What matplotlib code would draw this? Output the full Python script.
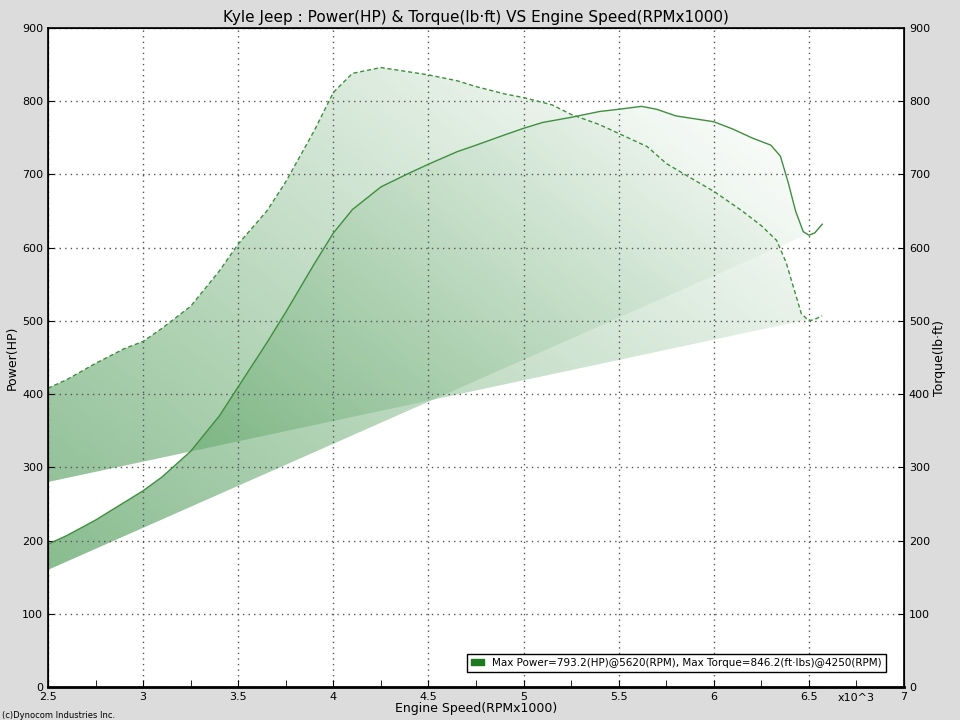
import numpy as np
import matplotlib
matplotlib.use("Agg")
import matplotlib.pyplot as plt
from matplotlib.colors import LinearSegmentedColormap

pw_x = [2.5, 2.6, 2.75, 2.9, 3.0, 3.1, 3.25, 3.4, 3.5, 3.65, 3.75, 3.9, 4.0, 4.1, 4.25, 4.4, 4.5, 4.65, 4.75, 4.9, 5.0, 5.1, 5.25, 5.4, 5.5, 5.62, 5.7, 5.8, 6.0, 6.1, 6.2, 6.3, 6.35, 6.39, 6.43, 6.47, 6.5, 6.53, 6.57]
pw_y = [195, 207, 228, 252, 268, 287, 322, 370, 410, 470, 512, 578, 620, 652, 683, 702, 714, 731, 740, 754, 763, 771, 778, 786, 789, 793, 789, 780, 772, 762, 750, 740, 725, 690, 650, 622, 617, 620, 632]
tq_x = [2.5, 2.6, 2.75, 2.9, 3.0, 3.1, 3.25, 3.4, 3.5, 3.65, 3.75, 3.9, 4.0, 4.1, 4.25, 4.4, 4.5, 4.65, 4.75, 4.9, 5.0, 5.15, 5.25, 5.4, 5.5, 5.65, 5.75, 5.9, 6.0, 6.15, 6.25, 6.33, 6.38, 6.42, 6.46, 6.5, 6.53, 6.57]
tq_y = [408, 420, 442, 462, 472, 490, 520, 568, 605, 650, 690, 760, 812, 838, 846, 840, 836, 828, 820, 810, 805, 795, 782, 768, 756, 738, 715, 692, 677, 650, 630, 610, 580, 545, 510, 500, 502, 507]
pw_base = [(2.5, 160), (6.55, 625)]
tq_base = [(2.5, 280), (6.55, 505)]
legend_text = "Max Power=793.2(HP)@5620(RPM), Max Torque=846.2(ft·lbs)@4250(RPM)"

fig = plt.figure(figsize=(9.6, 7.2), dpi=100, facecolor="#dcdcdc")
ax = fig.add_axes([0.05, 0.0458, 0.8917, 0.9153])
ax2 = ax.twinx()
ax.set_xlim(2.5, 7); ax.set_ylim(0, 900); ax2.set_ylim(0, 900)

cmap = LinearSegmentedColormap.from_list("g", ["#ffffff", "#2f8a3a"])
xx, yy = np.meshgrid(np.linspace(0, 1, 200), np.linspace(0, 1, 200))
grad = np.clip(1.05 - 0.6 * (xx + yy), 0.06, 1)

def gfill(x, y, base):
    x = np.asarray(x); y = np.asarray(y)
    (x0, y0), (x1, y1) = base
    b = y0 + (x - x0) * (y1 - y0) / (x1 - x0)
    poly = ax.fill_between(x, b, y, color="none", lw=0)
    im = ax.imshow(grad, extent=[2.5, 7, 0, 900], origin="lower", aspect="auto",
                   cmap=cmap, vmin=0, vmax=1, alpha=0.6, zorder=1)
    im.set_clip_path(poly.get_paths()[0], transform=ax.transData)

gfill(tq_x, tq_y, tq_base)
gfill(pw_x, pw_y, pw_base)
ax.set_xlim(2.5, 7); ax.set_ylim(0, 900)

ax.plot(pw_x, pw_y, color="#3f8f3f", lw=1.0, zorder=3)
ax.plot(tq_x, tq_y, color="#3f8f3f", lw=1.0, ls=(0, (3, 2)), zorder=3)

ax.set_xticks([2.5, 3, 3.5, 4, 4.5, 5, 5.5, 6, 6.5, 7])
ax.set_xticklabels(["2.5", "3", "3.5", "4", "4.5", "5", "5.5", "6", "6.5", "7"])
ax.set_xticks(np.arange(2.75, 7, 0.5), minor=True)
ax.set_yticks(range(0, 901, 100))
ax2.set_yticks(range(0, 901, 100))
ax.grid(True, ls=(0, (1, 3)), color="#555555", lw=1)
for a in (ax, ax2):
    a.tick_params(labelsize=8, direction="in", length=4, colors="black")
ax.tick_params(axis="x", which="both", direction="in", length=5)
ax.text(6.75, -8, "x10^3", ha="center", va="top", fontsize=8)
ax.set_xlabel("Engine Speed(RPMx1000)", fontsize=9, labelpad=0)
ax.set_ylabel("Power(HP)", fontsize=9, labelpad=2)
ax2.set_ylabel("Torque(lb·ft)", fontsize=9, labelpad=2)
ax.set_title("Kyle Jeep : Power(HP) & Torque(lb·ft) VS Engine Speed(RPMx1000)", fontsize=11, pad=4)
for s in ax.spines.values():
    s.set_linewidth(1.2)
ax.spines["bottom"].set_linewidth(2)
h = plt.Rectangle((0, 0), 1, 1, color="#1e7a1e")
ax.legend([h], [legend_text], loc="lower right", fontsize=7.5, fancybox=False,
          edgecolor="black", framealpha=1, bbox_to_anchor=(0.985, 0.015), handlelength=1.2, handleheight=0.6)
fig.text(0.002, 0.003, "(c)Dynocom Industries Inc.", fontsize=6)
fig.savefig("out.png", dpi=100, facecolor=fig.get_facecolor())
